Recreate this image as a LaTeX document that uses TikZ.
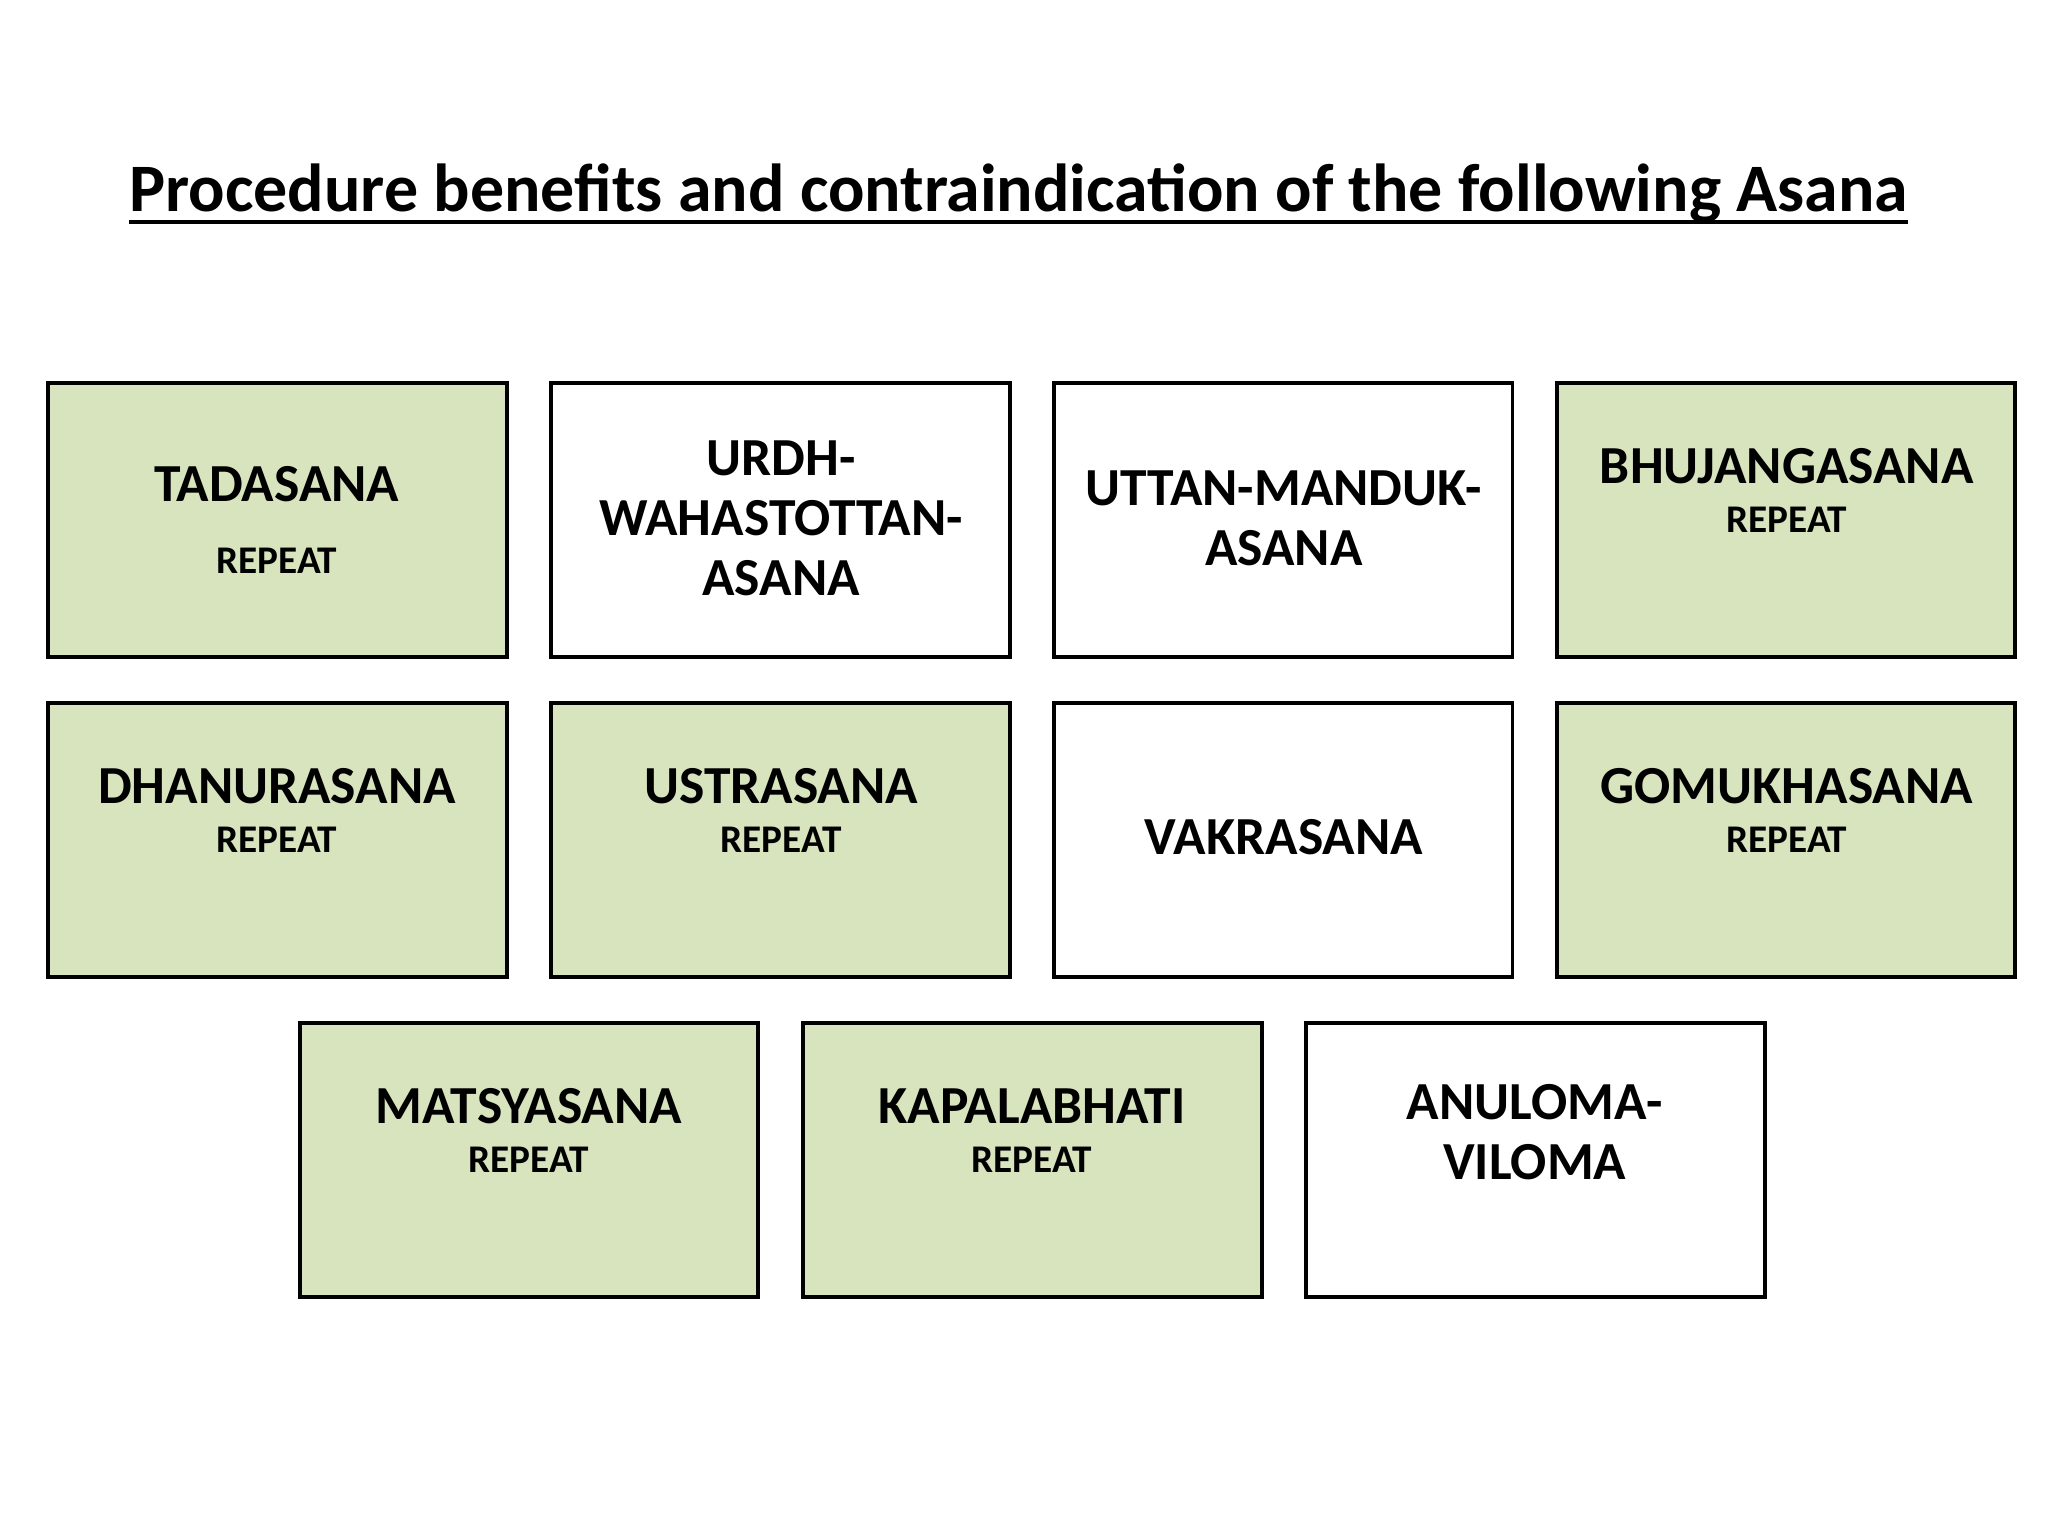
\documentclass[tikz,border=0pt]{standalone}
\usepackage{fontspec}
\setmainfont{Carlito}
\begin{document}
\begin{tikzpicture}[x=1pt,y=-1pt,
  boxg/.style={draw=black,line width=3pt,fill=boxgreen},
  boxw/.style={draw=black,line width=3pt,fill=white},
  big/.style={font=\fontsize{41}{46}\selectfont\bfseries,align=center},
  small/.style={font=\fontsize{30}{34}\selectfont\bfseries}]
\definecolor{boxgreen}{HTML}{D7E4BD}
\useasboundingbox (0,0) rectangle (1568,1176);
\node[font=\fontsize{52}{60}\selectfont\bfseries,anchor=base,inner sep=0pt] (title) at (780,162) {Procedure benefits and contraindication of the following Asana};
\draw[line width=3pt] (title.west |- 0,170) -- (title.east |- 0,170);
% row 1
\draw[boxg] (37,293) rectangle (388,503);
\node[big] (t1) at (212,371) {TADASANA};
\node[small] (r1) at (212,429) {REPEAT};
\draw[boxw] (422,293) rectangle (773,503);
\node[big] (t2) at (598,397) {URDH-\\WAHASTOTTAN-\\ASANA};
\draw[boxw] (807,293) rectangle (1158,503);
\node[big] (t3) at (983,397) {UTTAN-MANDUK-\\ASANA};
\draw[boxg] (1192,293) rectangle (1543,503);
\node[big] (t4) at (1368,357) {BHUJANGASANA};
\node[small] (r4) at (1368,398) {REPEAT};
% row 2
\draw[boxg] (37,538) rectangle (388,748);
\node[big] (t5) at (212,602) {DHANURASANA};
\node[small] (r5) at (212,643) {REPEAT};
\draw[boxg] (422,538) rectangle (773,748);
\node[big] (t6) at (598,602) {USTRASANA};
\node[small] (r6) at (598,643) {REPEAT};
\draw[boxw] (807,538) rectangle (1158,748);
\node[big] (t7) at (983,641) {VAKRASANA};
\draw[boxg] (1192,538) rectangle (1543,748);
\node[big] (t8) at (1368,602) {GOMUKHASANA};
\node[small] (r8) at (1368,643) {REPEAT};
% row 3
\draw[boxg] (230,783) rectangle (580,993);
\node[big] (t9) at (405,847) {MATSYASANA};
\node[small] (r9) at (405,888) {REPEAT};
\draw[boxg] (615,783) rectangle (966,993);
\node[big] (t10) at (790,847) {KAPALABHATI};
\node[small] (r10) at (790,888) {REPEAT};
\draw[boxw] (1000,783) rectangle (1351,993);
\node[big] (t11) at (1175,867) {ANULOMA-\\VILOMA};
\end{tikzpicture}
\end{document}
